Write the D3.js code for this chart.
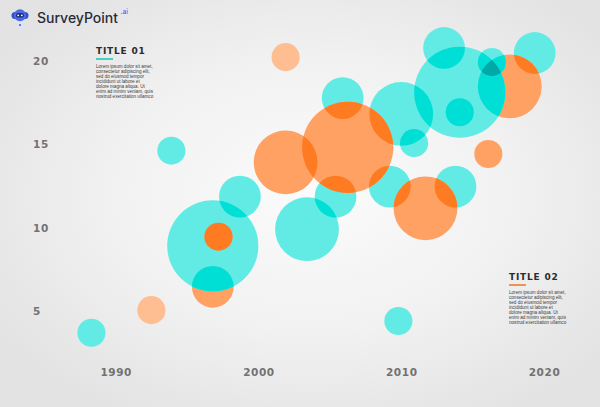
<!DOCTYPE html>
<html>
<head>
<meta charset="utf-8">
<script src="https://cdn.jsdelivr.net/npm/d3@7"></script>
<style>
  html, body { margin: 0; padding: 0; background: #ececec; }
  #chart svg { display: block; }
</style>
</head>
<body>
<div id="chart"></div>
<script>
// bubbles in drawing order (later ones sit on top)
const series = ["cyan", "peach", "cyan", "orange", "cyan", "cyan", "orange", "peach", "cyan", "cyan",
                "cyan", "cyan", "cyan", "cyan", "cyan", "orange", "orange", "orange", "cyan", "orange",
                "cyan", "orange", "cyan", "cyan", "cyan", "cyan"];
const years  = [1988.3, 1992.5, 1993.9, 1996.8, 1996.8, 1998.7, 1997.2, 2001.9, 2003.4, 2005.4,
                2005.9, 2010.0, 2010.9, 2009.2, 2013.8, 2001.9, 2006.25, 2011.7, 2009.8, 2016.1,
                2019.35, 2017.6, 2013.0, 2014.1, 2016.35, 2014.1];
const values = [3.7, 5.05, 14.6, 6.45, 8.9, 11.85, 9.45, 20.2, 9.9, 11.85,
                17.75, 16.8, 15.05, 12.45, 12.45, 13.9, 14.8, 11.15, 4.4, 14.4,
                20.45, 18.45, 20.75, 18.1, 19.9, 16.9];
const sizes  = [9.5, 9.5, 9.5, 21, 100, 21, 9.5, 9.5, 49, 21,
                21, 49, 9.5, 21, 21, 49, 100, 49, 9.5, 9.5,
                21, 49, 21, 100, 9.5, 9.5];

const yearTicks = [1990, 2000, 2010, 2020];
const valueTicks = [5, 10, 15, 20];

const loremLines = ["Lorem ipsum dolor sit amet,", "consectetur adipiscing elit,", "sed do eiusmod tempor",
                    "incididunt ut labore et", "dolore magna aliqua. Ut", "enim ad minim veniam, quis",
                    "nostrud exercitation ullamco"];

const colors = {
    cyan:   { light: "#62ebe5", strong: "#00dfd6", deep: "#00a8a8" },
    orange: { light: "#ffa163", strong: "#ff7b22", deep: "#e6620f" },
    peach:  { light: "#ffbd92", strong: "#ffa163", deep: "#ff7b22" }
};

const width = 600, height = 407;

const svg = d3.select("#chart").append("svg")
    .attr("width", width)
    .attr("height", height);

// background glow
const defs = svg.append("defs");
const grad = defs.append("radialGradient")
    .attr("id", "bg")
    .attr("cx", "52%").attr("cy", "48%").attr("r", "62%");
grad.append("stop").attr("offset", "0%").attr("stop-color", "#fbfbfb");
grad.append("stop").attr("offset", "55%").attr("stop-color", "#f1f1f1");
grad.append("stop").attr("offset", "100%").attr("stop-color", "#e3e3e3");
svg.append("rect").attr("width", width).attr("height", height).attr("fill", "url(#bg)");

// scales
const x = d3.scaleLinear().domain([1990, 2020]).range([115.7, 544]);
const y = d3.scaleLinear().domain([5, 20]).range([311, 60.5]);
const r = d3.scaleSqrt().domain([0, 100]).range([0, 45.6]);

const data = years.map((yr, i) => ({ i, year: yr, value: values[i], size: sizes[i], s: series[i] }));
const touches = (a, b) => Math.hypot(x(a.year) - x(b.year), y(a.value) - y(b.value)) < r(a.size) + r(b.size);

// axes, labels only
const xAxis = svg.append("g")
    .attr("transform", "translate(0,372)")
    .call(d3.axisBottom(x).tickValues(yearTicks).tickFormat(d3.format("d")).tickSize(0));
xAxis.select(".domain").remove();
xAxis.selectAll("text")
    .attr("y", 0).attr("dy", "0.35em")
    .style("font-family", "DejaVu Sans").style("font-weight", "bold")
    .style("font-size", "10.5px").style("letter-spacing", "0.6px")
    .style("fill", "#727272");

const yAxis = svg.append("g")
    .attr("transform", "translate(33,0)")
    .call(d3.axisLeft(y).tickValues(valueTicks).tickSize(0));
yAxis.select(".domain").remove();
yAxis.selectAll("text")
    .attr("x", 0).attr("dy", "0.35em")
    .attr("text-anchor", "start")
    .style("font-family", "DejaVu Sans").style("font-weight", "bold")
    .style("font-size", "10.5px").style("letter-spacing", "0.6px")
    .style("fill", "#727272");

// bubbles: plain fill, stronger where over one earlier bubble, deeper where over two
const bubbles = svg.append("g");
const addClip = (id, o) => defs.append("clipPath").attr("id", id)
    .append("circle")
    .attr("cx", x(o.year)).attr("cy", y(o.value)).attr("r", r(o.size));

data.forEach((d, k) => {
    const cx = x(d.year), cy = y(d.value), rr = r(d.size);
    const under = data.slice(0, k).filter(o => touches(o, d));

    bubbles.append("circle")
        .attr("cx", cx).attr("cy", cy).attr("r", rr)
        .attr("fill", colors[d.s].light);

    if (!under.length) return;

    const clip = defs.append("clipPath").attr("id", "clip-" + k);
    clip.selectAll("circle")
        .data(under)
        .join("circle")
        .attr("cx", o => x(o.year))
        .attr("cy", o => y(o.value))
        .attr("r", o => r(o.size));
    bubbles.append("circle")
        .attr("cx", cx).attr("cy", cy).attr("r", rr)
        .attr("clip-path", `url(#clip-${k})`)
        .attr("fill", colors[d.s].strong);

    // where two earlier bubbles overlap each other under this one
    under.forEach((a, ia) => {
        under.slice(ia + 1).forEach((b, ib) => {
            if (!touches(a, b)) return;
            const id = `tri-${k}-${ia}-${ib}`;
            addClip(id + "a", a);
            addClip(id + "b", b);
            bubbles.append("g")
                .attr("clip-path", `url(#${id}a)`)
                .append("circle")
                .attr("cx", cx).attr("cy", cy).attr("r", rr)
                .attr("clip-path", `url(#${id}b)`)
                .attr("fill", colors[d.s].deep);
        });
    });
});

// text blocks
function textBlock(x0, y0, title, accent) {
    const g = svg.append("g").attr("transform", `translate(${x0},${y0})`);
    g.append("text")
        .attr("x", 0).attr("y", 0)
        .text(title)
        .style("font-family", "DejaVu Sans").style("font-weight", "bold")
        .style("font-size", "9px").style("letter-spacing", "0.8px")
        .style("fill", "#2c2c2c");
    g.append("rect")
        .attr("x", 0).attr("y", 4.2).attr("width", 17).attr("height", 1.6)
        .attr("fill", accent);
    g.selectAll(".lorem")
        .data(loremLines)
        .join("text")
        .attr("class", "lorem")
        .attr("x", 0)
        .attr("y", (d, i) => 13.5 + i * 5.1)
        .text(d => d)
        .style("font-family", "Liberation Sans")
        .style("font-size", "4.6px")
        .style("fill", "#3c3c3c");
}
textBlock(96, 54, "TITLE 01", "#20c9c0");
textBlock(509, 280, "TITLE 02", "#f27a2a");

// logo
const logo = svg.append("g");
logo.append("rect").attr("x", 16.5).attr("y", 21).attr("width", 7).attr("height", 8).attr("rx", 2.5).attr("fill", "#dfe3ee");
logo.append("circle").attr("cx", 20).attr("cy", 25).attr("r", 1.1).attr("fill", "#4566e0");
logo.append("rect").attr("x", 11.5).attr("y", 12).attr("width", 17).attr("height", 7).attr("rx", 3.5).attr("fill", "#3150c9");
logo.append("circle").attr("cx", 20).attr("cy", 15.2).attr("r", 6).attr("fill", "#4a6be3");
logo.append("rect").attr("x", 16).attr("y", 13).attr("width", 8).attr("height", 4.6).attr("rx", 2.2).attr("fill", "#1f2f7a");
logo.append("circle").attr("cx", 18.2).attr("cy", 15.3).attr("r", 0.9).attr("fill", "#ffffff");
logo.append("circle").attr("cx", 21.8).attr("cy", 15.3).attr("r", 0.9).attr("fill", "#ffffff");

logo.append("text")
    .attr("x", 37).attr("y", 22.5)
    .text("SurveyPoint")
    .style("font-family", "Inter").style("font-weight", "500")
    .style("font-size", "14px")
    .style("fill", "#2a2b38");
logo.append("text")
    .attr("x", 120.5).attr("y", 13.5)
    .text(".ai")
    .style("font-family", "Inter").style("font-weight", "500")
    .style("font-size", "6.5px")
    .style("fill", "#3d63f2");
</script>
</body>
</html>
